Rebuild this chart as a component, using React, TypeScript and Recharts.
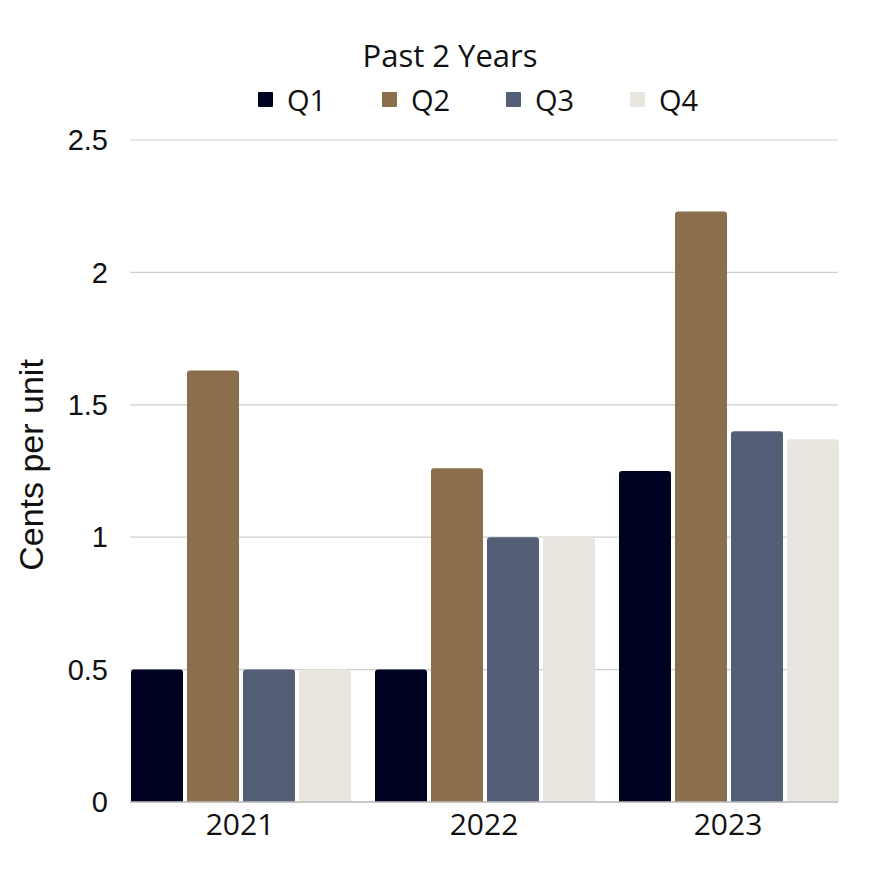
import React from "react";
import {
  BarChart,
  Bar,
  XAxis,
  YAxis,
  CartesianGrid,
} from "recharts";

const years = ["2021", "2022", "2023"];
const q1 = [0.5, 0.5, 1.25];
const q2 = [1.63, 1.26, 2.23];
const q3 = [0.5, 1.0, 1.4];
const q4 = [0.5, 1.0, 1.37];
const yTicks = [0, 0.5, 1, 1.5, 2, 2.5];

const seriesKeys = ["Q1", "Q2", "Q3", "Q4"];
const seriesColors = ["#000221", "#8b6e4b", "#545f77", "#e9e5df"];

const data = years.map((year, i) => ({
  year,
  Q1: q1[i],
  Q2: q2[i],
  Q3: q3[i],
  Q4: q4[i],
}));

const headFont = "'Open Sans', Lato, sans-serif";
const tickFont = "'Liberation Sans', Arial, sans-serif";

function Header() {
  return (
    <div style={{ position: "absolute", left: 0, top: 0, width: 893, pointerEvents: "none" }}>
      <div
        style={{
          position: "absolute",
          left: 450 - 150,
          width: 300,
          top: 36,
          textAlign: "center",
          fontFamily: headFont,
          fontSize: 31,
          lineHeight: "38px",
          color: "#111",
        }}
      >
        Past 2 Years
      </div>
      {seriesKeys.map((k, i) => (
        <div
          key={k}
          style={{
            position: "absolute",
            left: 258 + i * 124,
            top: 81,
            height: 36,
            display: "flex",
            alignItems: "center",
            fontFamily: headFont,
            fontSize: 29,
            color: "#111",
          }}
        >
          <span
            style={{
              display: "inline-block",
              width: 15,
              height: 15,
              background: seriesColors[i],
              marginRight: 14,
              borderRadius: 1,
            }}
          />
          {k}
        </div>
      ))}
    </div>
  );
}

export default function App() {
  return (
    <div style={{ position: "absolute", left: 0, top: 0, width: 893, height: 893, background: "#fff" }}>
      <BarChart
        width={893}
        height={893}
        data={data}
        margin={{ top: 140, right: 55, bottom: 41, left: 0 }}
        barGap={4}
        barCategoryGap={13}
      >
        <CartesianGrid vertical={false} stroke="#cfcfcf" strokeWidth={1.2} />
        <XAxis
          dataKey="year"
          height={50}
          padding={{ left: -12, right: -12 }}
          tickLine={false}
          axisLine={{ stroke: "#bdbdbd", strokeWidth: 1.5 }}
          tick={{ fontFamily: headFont, fontSize: 30, fill: "#111" }}
          tickMargin={6}
        />
        <YAxis
          width={130}
          domain={[0, 2.5]}
          ticks={yTicks}
          interval={0}
          tickLine={false}
          axisLine={false}
          tickMargin={16}
          tick={{ fontFamily: tickFont, fontSize: 29, fill: "#111" }}
          label={{
            value: "Cents per unit",
            angle: -90,
            position: "insideLeft",
            dx: 26,
            dy: -6,
            style: { textAnchor: "middle", fontFamily: tickFont, fontSize: 34, fill: "#111" },
          }}
        />
        {seriesKeys.map((k, i) => (
          <Bar
            key={k}
            dataKey={k}
            fill={seriesColors[i]}
            radius={[3, 3, 0, 0]}
            isAnimationActive={false}
          />
        ))}
      </BarChart>
      <Header />
    </div>
  );
}
